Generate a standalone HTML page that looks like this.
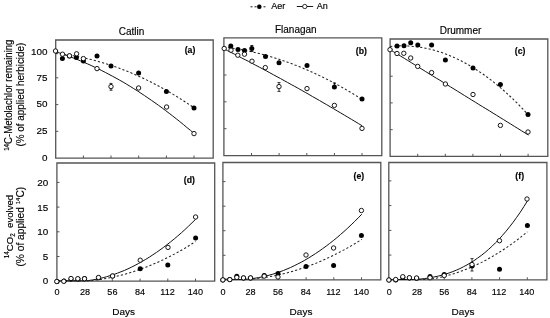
<!DOCTYPE html>
<html><head><meta charset="utf-8"><style>
html,body{margin:0;padding:0;background:#fff;}
svg{display:block;}
</style></head><body>
<svg width="550" height="318" viewBox="0 0 550 318">
<rect width="550" height="318" fill="#fff"/>
<g fill="#000" stroke="#000" stroke-width="0.15">
<text x="131.6" y="34.5" font-size="10" text-anchor="middle" font-weight="normal" font-family="Liberation Sans, sans-serif" >Catlin</text>
<text x="295.8" y="32.5" font-size="10" text-anchor="middle" font-weight="normal" font-family="Liberation Sans, sans-serif" >Flanagan</text>
<text x="460.5" y="33.5" font-size="10" text-anchor="middle" font-weight="normal" font-family="Liberation Sans, sans-serif" >Drummer</text>
<path d="M250.5,6.8 h2 M254.5,6.8 h2 M263.5,6.8 h2" stroke="#000" stroke-width="0.9"/>
<circle cx="259.3" cy="6.8" r="2.2" fill="#000"/>
<text x="271.2" y="9.0" font-size="9" text-anchor="start" font-weight="normal" font-family="Liberation Sans, sans-serif" >Aer</text>
<path d="M296.8,6.5 H313.2" stroke="#000" stroke-width="0.9"/>
<circle cx="304.8" cy="6.5" r="2.15" fill="#fff" stroke="#000" stroke-width="0.8"/>
<text x="316.8" y="8.6" font-size="9" text-anchor="start" font-weight="normal" font-family="Liberation Sans, sans-serif" >An</text>
<text x="190" y="52.8" font-size="8.7" text-anchor="middle" font-weight="bold" font-family="Liberation Sans, sans-serif" >(a)</text>
<text x="361.3" y="53.7" font-size="8.7" text-anchor="middle" font-weight="bold" font-family="Liberation Sans, sans-serif" >(b)</text>
<text x="520.1" y="54.3" font-size="8.7" text-anchor="middle" font-weight="bold" font-family="Liberation Sans, sans-serif" >(c)</text>
<text x="189.3" y="182.8" font-size="8.7" text-anchor="middle" font-weight="bold" font-family="Liberation Sans, sans-serif" >(d)</text>
<text x="358.8" y="178.9" font-size="8.7" text-anchor="middle" font-weight="bold" font-family="Liberation Sans, sans-serif" >(e)</text>
<text x="519.7" y="178.6" font-size="8.7" text-anchor="middle" font-weight="bold" font-family="Liberation Sans, sans-serif" >(f)</text>
<text x="47.4" y="54.7" font-size="9.9" text-anchor="end" font-weight="normal" font-family="Liberation Sans, sans-serif" >100</text>
<text x="47.4" y="80.8" font-size="9.9" text-anchor="end" font-weight="normal" font-family="Liberation Sans, sans-serif" >75</text>
<text x="47.4" y="107.4" font-size="9.9" text-anchor="end" font-weight="normal" font-family="Liberation Sans, sans-serif" >50</text>
<text x="47.4" y="134.1" font-size="9.9" text-anchor="end" font-weight="normal" font-family="Liberation Sans, sans-serif" >25</text>
<text x="47.4" y="160.8" font-size="9.9" text-anchor="end" font-weight="normal" font-family="Liberation Sans, sans-serif" >0</text>
<text x="48.3" y="186.3" font-size="9.9" text-anchor="end" font-weight="normal" font-family="Liberation Sans, sans-serif" >20</text>
<text x="48.3" y="210.8" font-size="9.9" text-anchor="end" font-weight="normal" font-family="Liberation Sans, sans-serif" >15</text>
<text x="48.3" y="235.4" font-size="9.9" text-anchor="end" font-weight="normal" font-family="Liberation Sans, sans-serif" >10</text>
<text x="48.3" y="260.1" font-size="9.9" text-anchor="end" font-weight="normal" font-family="Liberation Sans, sans-serif" >5</text>
<text x="48.3" y="284.4" font-size="9.9" text-anchor="end" font-weight="normal" font-family="Liberation Sans, sans-serif" >0</text>
<text transform="translate(57,294.6) scale(0.92,1)" font-size="9.9" text-anchor="middle" font-weight="normal" font-family="Liberation Sans, sans-serif" >0</text>
<text transform="translate(85,294.6) scale(0.92,1)" font-size="9.9" text-anchor="middle" font-weight="normal" font-family="Liberation Sans, sans-serif" >28</text>
<text transform="translate(112.4,294.6) scale(0.92,1)" font-size="9.9" text-anchor="middle" font-weight="normal" font-family="Liberation Sans, sans-serif" >56</text>
<text transform="translate(140,294.6) scale(0.92,1)" font-size="9.9" text-anchor="middle" font-weight="normal" font-family="Liberation Sans, sans-serif" >84</text>
<text transform="translate(167.6,294.6) scale(0.92,1)" font-size="9.9" text-anchor="middle" font-weight="normal" font-family="Liberation Sans, sans-serif" >112</text>
<text transform="translate(195.4,294.6) scale(0.92,1)" font-size="9.9" text-anchor="middle" font-weight="normal" font-family="Liberation Sans, sans-serif" >140</text>
<text transform="translate(223,294.6) scale(0.92,1)" font-size="9.9" text-anchor="middle" font-weight="normal" font-family="Liberation Sans, sans-serif" >0</text>
<text transform="translate(250.6,294.6) scale(0.92,1)" font-size="9.9" text-anchor="middle" font-weight="normal" font-family="Liberation Sans, sans-serif" >28</text>
<text transform="translate(278,294.6) scale(0.92,1)" font-size="9.9" text-anchor="middle" font-weight="normal" font-family="Liberation Sans, sans-serif" >56</text>
<text transform="translate(305.7,294.6) scale(0.92,1)" font-size="9.9" text-anchor="middle" font-weight="normal" font-family="Liberation Sans, sans-serif" >84</text>
<text transform="translate(333.4,294.6) scale(0.92,1)" font-size="9.9" text-anchor="middle" font-weight="normal" font-family="Liberation Sans, sans-serif" >112</text>
<text transform="translate(361.4,294.6) scale(0.92,1)" font-size="9.9" text-anchor="middle" font-weight="normal" font-family="Liberation Sans, sans-serif" >140</text>
<text transform="translate(389.3,294.6) scale(0.92,1)" font-size="9.9" text-anchor="middle" font-weight="normal" font-family="Liberation Sans, sans-serif" >0</text>
<text transform="translate(417,294.6) scale(0.92,1)" font-size="9.9" text-anchor="middle" font-weight="normal" font-family="Liberation Sans, sans-serif" >28</text>
<text transform="translate(444.3,294.6) scale(0.92,1)" font-size="9.9" text-anchor="middle" font-weight="normal" font-family="Liberation Sans, sans-serif" >56</text>
<text transform="translate(471.8,294.6) scale(0.92,1)" font-size="9.9" text-anchor="middle" font-weight="normal" font-family="Liberation Sans, sans-serif" >84</text>
<text transform="translate(499,294.6) scale(0.92,1)" font-size="9.9" text-anchor="middle" font-weight="normal" font-family="Liberation Sans, sans-serif" >112</text>
<text transform="translate(526.8,294.6) scale(0.92,1)" font-size="9.9" text-anchor="middle" font-weight="normal" font-family="Liberation Sans, sans-serif" >140</text>
<text transform="translate(123.7,315) scale(1,0.9)" font-size="10" text-anchor="middle" font-weight="normal" font-family="Liberation Sans, sans-serif" >Days</text>
<text transform="translate(301,315) scale(1,0.9)" font-size="10" text-anchor="middle" font-weight="normal" font-family="Liberation Sans, sans-serif" >Days</text>
<text transform="translate(463,315) scale(1,0.9)" font-size="10" text-anchor="middle" font-weight="normal" font-family="Liberation Sans, sans-serif" >Days</text>
<text transform="translate(12.1,95.2) rotate(-90) scale(1,1.06)" font-size="9.6" text-anchor="middle" font-family="Liberation Sans, sans-serif"><tspan font-size="6.2" dy="-3.2">14</tspan><tspan dy="3.2">C-Metolachlor remaining</tspan></text>
<text transform="translate(23.8,94.6) rotate(-90) scale(1,1.06)" font-size="9.9" text-anchor="middle" font-family="Liberation Sans, sans-serif">(% of applied herbicide)</text>
<text transform="translate(12.7,258.2) rotate(-90)" font-size="9.6" text-anchor="start" font-family="Liberation Sans, sans-serif"><tspan font-size="6.3" dy="-3.3">14</tspan><tspan dy="3.3">CO</tspan><tspan font-size="6.3" dy="2.5">2</tspan><tspan dy="-2.5" dx="5.4">evolved</tspan></text>
<text transform="translate(23.8,226.7) rotate(-90)" font-size="10.2" text-anchor="middle" font-family="Liberation Sans, sans-serif">(% of applied <tspan font-size="6" dy="-3.4">14</tspan><tspan dy="3.4">C)</tspan></text>
</g>
<path d="M83.4,158.1 v-2.6 M111.0,158.1 v-2.6 M138.7,158.1 v-2.6 M166.4,158.1 v-2.6 M194.0,158.1 v-2.6 M55.7,131.3 h2.6 M55.7,104.6 h2.6 M55.7,77.8 h2.6 M55.7,51.1 h2.6" stroke="#555555" stroke-width="1" fill="none"/>
<path d="M55.7,40.0 H213.2 V158.1 H55.7 Z" stroke="#555555" stroke-width="1.3" fill="none"/>
<path d="M55.7,51.8 L59.2,52.9 L62.8,54.1 L66.3,55.4 L69.9,56.7 L73.4,58.0 L77.0,59.4 L80.5,60.9 L84.1,62.4 L87.6,63.9 L91.2,65.5 L94.7,67.2 L98.3,68.9 L101.8,70.6 L105.3,72.4 L108.9,74.3 L112.4,76.2 L116.0,78.1 L119.5,80.1 L123.1,82.1 L126.6,84.2 L130.2,86.4 L133.7,88.6 L137.3,90.8 L140.8,93.1 L144.4,95.5 L147.9,97.9 L151.4,100.3 L155.0,102.8 L158.5,105.3 L162.1,107.9 L165.6,110.6 L169.2,113.3 L172.7,116.0 L176.3,118.8 L179.8,121.6 L183.4,124.5 L186.9,127.5 L190.5,130.4 L194.0,133.5" stroke="#111" stroke-width="1.0" fill="none"/>
<path d="M55.7,53.4 L59.2,53.8 L62.8,54.2 L66.3,54.7 L69.9,55.2 L73.4,55.8 L77.0,56.4 L80.5,57.1 L84.1,57.9 L87.6,58.7 L91.2,59.5 L94.7,60.4 L98.3,61.4 L101.8,62.4 L105.3,63.5 L108.9,64.6 L112.4,65.8 L116.0,67.0 L119.5,68.3 L123.1,69.7 L126.6,71.1 L130.2,72.5 L133.7,74.0 L137.3,75.6 L140.8,77.2 L144.4,78.8 L147.9,80.6 L151.4,82.3 L155.0,84.2 L158.5,86.0 L162.1,88.0 L165.6,90.0 L169.2,92.0 L172.7,94.1 L176.3,96.2 L179.8,98.4 L183.4,100.7 L186.9,103.0 L190.5,105.4 L194.0,107.8" stroke="#222" stroke-width="1.05" stroke-dasharray="2.2,2.1" fill="none"/>
<path d="M111,83.4 V90.2 M109.5,83.4 h3 M109.5,90.2 h3" stroke="#000" stroke-width="0.8" fill="none"/>
<circle cx="62.4" cy="58.6" r="2.5" fill="#000"/>
<circle cx="69.4" cy="56" r="2.5" fill="#000"/>
<circle cx="76.4" cy="57.4" r="2.5" fill="#000"/>
<circle cx="83.4" cy="61" r="2.5" fill="#000"/>
<circle cx="97" cy="56" r="2.5" fill="#000"/>
<circle cx="111" cy="66" r="2.5" fill="#000"/>
<circle cx="138.6" cy="73" r="2.5" fill="#000"/>
<circle cx="166.4" cy="91.6" r="2.5" fill="#000"/>
<circle cx="194" cy="108" r="2.5" fill="#000"/>
<circle cx="55.5" cy="51.0" r="2.2" fill="#fff" stroke="#000" stroke-width="0.9"/>
<circle cx="62.5" cy="54.2" r="2.2" fill="#fff" stroke="#000" stroke-width="0.9"/>
<circle cx="69.5" cy="55.8" r="2.2" fill="#fff" stroke="#000" stroke-width="0.9"/>
<circle cx="76.6" cy="53.8" r="2.2" fill="#fff" stroke="#000" stroke-width="0.9"/>
<circle cx="83.4" cy="58.6" r="2.2" fill="#fff" stroke="#000" stroke-width="0.9"/>
<circle cx="97" cy="68.6" r="2.2" fill="#fff" stroke="#000" stroke-width="0.9"/>
<circle cx="111" cy="86.6" r="2.2" fill="#fff" stroke="#000" stroke-width="0.9"/>
<circle cx="138.6" cy="88" r="2.2" fill="#fff" stroke="#000" stroke-width="0.9"/>
<circle cx="166.6" cy="107" r="2.2" fill="#fff" stroke="#000" stroke-width="0.9"/>
<circle cx="194" cy="133.6" r="2.2" fill="#fff" stroke="#000" stroke-width="0.9"/>
<path d="M251.5,155.6 v-2.6 M279.1,155.6 v-2.6 M306.8,155.6 v-2.6 M334.4,155.6 v-2.6 M362.0,155.6 v-2.6 M223.9,128.7 h2.6 M223.9,101.8 h2.6 M223.9,75.0 h2.6 M223.9,48.1 h2.6" stroke="#555555" stroke-width="1" fill="none"/>
<path d="M223.9,37.9 H381.8 V155.6 H223.9 Z" stroke="#555555" stroke-width="1.3" fill="none"/>
<path d="M223.9,48.8 L227.4,50.6 L231.0,52.4 L234.5,54.2 L238.1,56.0 L241.6,57.9 L245.1,59.7 L248.7,61.5 L252.2,63.4 L255.8,65.3 L259.3,67.1 L262.9,69.0 L266.4,70.9 L269.9,72.8 L273.5,74.8 L277.0,76.7 L280.6,78.6 L284.1,80.6 L287.6,82.5 L291.2,84.5 L294.7,86.4 L298.3,88.4 L301.8,90.4 L305.3,92.4 L308.9,94.4 L312.4,96.5 L316.0,98.5 L319.5,100.5 L323.0,102.6 L326.6,104.6 L330.1,106.7 L333.7,108.8 L337.2,110.9 L340.8,113.0 L344.3,115.1 L347.8,117.2 L351.4,119.3 L354.9,121.4 L358.5,123.6 L362.0,125.7" stroke="#111" stroke-width="1.0" fill="none"/>
<path d="M223.9,47.1 L227.4,47.5 L231.0,48.0 L234.5,48.5 L238.1,49.1 L241.6,49.7 L245.1,50.4 L248.7,51.1 L252.2,51.9 L255.8,52.7 L259.3,53.6 L262.9,54.5 L266.4,55.5 L269.9,56.5 L273.5,57.5 L277.0,58.6 L280.6,59.8 L284.1,61.0 L287.6,62.2 L291.2,63.5 L294.7,64.9 L298.3,66.2 L301.8,67.7 L305.3,69.2 L308.9,70.7 L312.4,72.3 L316.0,73.9 L319.5,75.6 L323.0,77.3 L326.6,79.1 L330.1,80.9 L333.7,82.8 L337.2,84.7 L340.8,86.6 L344.3,88.6 L347.8,90.7 L351.4,92.8 L354.9,95.0 L358.5,97.2 L362.0,99.4" stroke="#222" stroke-width="1.05" stroke-dasharray="2.2,2.1" fill="none"/>
<path d="M279,82.6 V91.4 M277.5,82.6 h3 M277.5,91.4 h3" stroke="#000" stroke-width="0.8" fill="none"/>
<path d="M251.8,45.5 V51.5 M250.3,45.5 h3 M250.3,51.5 h3" stroke="#000" stroke-width="0.8" fill="none"/>
<path d="M334.4,83.0 V87.0 M332.9,83.0 h3 M332.9,87.0 h3" stroke="#000" stroke-width="0.8" fill="none"/>
<circle cx="230.8" cy="46" r="2.5" fill="#000"/>
<circle cx="238" cy="49.5" r="2.5" fill="#000"/>
<circle cx="244.5" cy="50.5" r="2.5" fill="#000"/>
<circle cx="251.8" cy="48.5" r="2.5" fill="#000"/>
<circle cx="265.5" cy="56.5" r="2.5" fill="#000"/>
<circle cx="279" cy="62.8" r="2.5" fill="#000"/>
<circle cx="307" cy="65.4" r="2.5" fill="#000"/>
<circle cx="334.4" cy="87" r="2.5" fill="#000"/>
<circle cx="362" cy="99" r="2.5" fill="#000"/>
<circle cx="224.2" cy="48.5" r="2.2" fill="#fff" stroke="#000" stroke-width="0.9"/>
<circle cx="231" cy="50.2" r="2.2" fill="#fff" stroke="#000" stroke-width="0.9"/>
<circle cx="237.8" cy="55.2" r="2.2" fill="#fff" stroke="#000" stroke-width="0.9"/>
<circle cx="244.5" cy="54.2" r="2.2" fill="#fff" stroke="#000" stroke-width="0.9"/>
<circle cx="252" cy="61.2" r="2.2" fill="#fff" stroke="#000" stroke-width="0.9"/>
<circle cx="265.3" cy="67.6" r="2.2" fill="#fff" stroke="#000" stroke-width="0.9"/>
<circle cx="279" cy="86.6" r="2.2" fill="#fff" stroke="#000" stroke-width="0.9"/>
<circle cx="307" cy="88.6" r="2.2" fill="#fff" stroke="#000" stroke-width="0.9"/>
<circle cx="334.4" cy="105.4" r="2.2" fill="#fff" stroke="#000" stroke-width="0.9"/>
<circle cx="362" cy="128.4" r="2.2" fill="#fff" stroke="#000" stroke-width="0.9"/>
<path d="M417.7,156.4 v-2.6 M445.3,156.4 v-2.6 M472.9,156.4 v-2.6 M500.5,156.4 v-2.6 M528.1,156.4 v-2.6 M390.1,129.7 h2.6 M390.1,102.9 h2.6 M390.1,76.2 h2.6 M390.1,49.4 h2.6" stroke="#555555" stroke-width="1" fill="none"/>
<path d="M390.1,39.0 H547.8 V156.4 H390.1 Z" stroke="#555555" stroke-width="1.3" fill="none"/>
<path d="M390.1,49.6 L393.6,51.8 L397.2,53.9 L400.7,56.1 L404.3,58.3 L407.8,60.5 L411.4,62.7 L414.9,64.9 L418.5,67.1 L422.0,69.3 L425.6,71.5 L429.1,73.7 L432.7,75.9 L436.2,78.1 L439.8,80.2 L443.3,82.4 L446.9,84.6 L450.4,86.8 L454.0,89.0 L457.5,91.2 L461.1,93.4 L464.6,95.6 L468.2,97.8 L471.7,100.0 L475.3,102.2 L478.8,104.4 L482.4,106.6 L485.9,108.7 L489.5,110.9 L493.0,113.1 L496.6,115.3 L500.1,117.5 L503.7,119.7 L507.2,121.9 L510.8,124.1 L514.3,126.3 L517.9,128.5 L521.4,130.7 L525.0,132.9 L528.5,135.0" stroke="#111" stroke-width="1.0" fill="none"/>
<path d="M390.1,46.5 L393.6,46.2 L397.2,46.0 L400.7,45.8 L404.3,45.8 L407.8,46.0 L411.4,46.2 L414.9,46.5 L418.5,46.9 L422.0,47.5 L425.6,48.2 L429.1,48.9 L432.7,49.8 L436.2,50.8 L439.8,51.9 L443.3,53.1 L446.9,54.4 L450.4,55.9 L454.0,57.4 L457.5,59.1 L461.1,60.8 L464.6,62.7 L468.2,64.7 L471.7,66.8 L475.3,69.0 L478.8,71.3 L482.4,73.7 L485.9,76.2 L489.5,78.9 L493.0,81.6 L496.6,84.5 L500.1,87.4 L503.7,90.5 L507.2,93.7 L510.8,97.0 L514.3,100.4 L517.9,103.9 L521.4,107.6 L525.0,111.3 L528.5,115.2" stroke="#222" stroke-width="1.05" stroke-dasharray="2.2,2.1" fill="none"/>
<circle cx="397" cy="46" r="2.5" fill="#000"/>
<circle cx="404" cy="45.7" r="2.5" fill="#000"/>
<circle cx="410.7" cy="42.7" r="2.5" fill="#000"/>
<circle cx="417.8" cy="45.1" r="2.5" fill="#000"/>
<circle cx="431.6" cy="45.1" r="2.5" fill="#000"/>
<circle cx="445.4" cy="60" r="2.5" fill="#000"/>
<circle cx="473" cy="68" r="2.5" fill="#000"/>
<circle cx="500.4" cy="84.6" r="2.5" fill="#000"/>
<circle cx="528" cy="114.4" r="2.5" fill="#000"/>
<circle cx="390" cy="49.7" r="2.2" fill="#fff" stroke="#000" stroke-width="0.9"/>
<circle cx="397" cy="53.5" r="2.2" fill="#fff" stroke="#000" stroke-width="0.9"/>
<circle cx="403.8" cy="53.3" r="2.2" fill="#fff" stroke="#000" stroke-width="0.9"/>
<circle cx="410.7" cy="58" r="2.2" fill="#fff" stroke="#000" stroke-width="0.9"/>
<circle cx="417.7" cy="66.4" r="2.2" fill="#fff" stroke="#000" stroke-width="0.9"/>
<circle cx="431.6" cy="72.6" r="2.2" fill="#fff" stroke="#000" stroke-width="0.9"/>
<circle cx="445.4" cy="84" r="2.2" fill="#fff" stroke="#000" stroke-width="0.9"/>
<circle cx="473" cy="94.5" r="2.2" fill="#fff" stroke="#000" stroke-width="0.9"/>
<circle cx="500.4" cy="125.4" r="2.2" fill="#fff" stroke="#000" stroke-width="0.9"/>
<circle cx="528" cy="132" r="2.2" fill="#fff" stroke="#000" stroke-width="0.9"/>
<path d="M84.6,281.2 v-2.6 M112.3,281.2 v-2.6 M140.1,281.2 v-2.6 M167.8,281.2 v-2.6 M195.5,281.2 v-2.6 M56.9,256.5 h2.6 M56.9,231.8 h2.6 M56.9,207.1 h2.6 M56.9,182.4 h2.6" stroke="#555555" stroke-width="1" fill="none"/>
<path d="M56.9,163.0 H214.7 V281.2 H56.9 Z" stroke="#555555" stroke-width="1.3" fill="none"/>
<path d="M56.9,280.8 L60.5,280.8 L64.0,280.8 L67.6,280.8 L71.1,280.8 L74.7,280.8 L78.2,280.8 L81.8,280.8 L85.4,280.8 L88.9,280.5 L92.5,279.9 L96.0,279.3 L99.6,278.5 L103.1,277.7 L106.7,276.7 L110.2,275.6 L113.8,274.5 L117.4,273.2 L120.9,271.8 L124.5,270.4 L128.0,268.8 L131.6,267.1 L135.1,265.3 L138.7,263.4 L142.3,261.4 L145.8,259.3 L149.4,257.1 L152.9,254.8 L156.5,252.4 L160.0,249.9 L163.6,247.3 L167.1,244.6 L170.7,241.8 L174.3,238.9 L177.8,235.9 L181.4,232.8 L184.9,229.6 L188.5,226.2 L192.0,222.8 L195.6,219.3" stroke="#111" stroke-width="1.0" fill="none"/>
<path d="M56.9,280.8 L60.5,280.8 L64.0,280.8 L67.6,280.8 L71.1,280.8 L74.7,280.8 L78.2,280.8 L81.8,280.8 L85.4,280.8 L88.9,280.8 L92.5,280.6 L96.0,280.1 L99.6,279.6 L103.1,279.0 L106.7,278.4 L110.2,277.7 L113.8,277.0 L117.4,276.1 L120.9,275.2 L124.5,274.3 L128.0,273.3 L131.6,272.2 L135.1,271.0 L138.7,269.8 L142.3,268.5 L145.8,267.2 L149.4,265.8 L152.9,264.3 L156.5,262.8 L160.0,261.2 L163.6,259.5 L167.1,257.8 L170.7,256.0 L174.3,254.1 L177.8,252.2 L181.4,250.2 L184.9,248.2 L188.5,246.0 L192.0,243.8 L195.6,241.6" stroke="#222" stroke-width="1.05" stroke-dasharray="2.2,2.1" fill="none"/>
<circle cx="57" cy="281.5" r="2.5" fill="#000"/>
<circle cx="64" cy="281" r="2.5" fill="#000"/>
<circle cx="71" cy="279" r="2.5" fill="#000"/>
<circle cx="78" cy="279" r="2.5" fill="#000"/>
<circle cx="84.5" cy="278.5" r="2.5" fill="#000"/>
<circle cx="98.5" cy="277.8" r="2.5" fill="#000"/>
<circle cx="112.6" cy="276" r="2.5" fill="#000"/>
<circle cx="140.2" cy="268.8" r="2.5" fill="#000"/>
<circle cx="167.8" cy="265" r="2.5" fill="#000"/>
<circle cx="195.6" cy="238" r="2.5" fill="#000"/>
<circle cx="56.8" cy="281.5" r="2.2" fill="#fff" stroke="#000" stroke-width="0.9"/>
<circle cx="63.8" cy="281.3" r="2.2" fill="#fff" stroke="#000" stroke-width="0.9"/>
<circle cx="71" cy="278.5" r="2.2" fill="#fff" stroke="#000" stroke-width="0.9"/>
<circle cx="77.8" cy="278.7" r="2.2" fill="#fff" stroke="#000" stroke-width="0.9"/>
<circle cx="84.5" cy="278.7" r="2.2" fill="#fff" stroke="#000" stroke-width="0.9"/>
<circle cx="98.5" cy="277.5" r="2.2" fill="#fff" stroke="#000" stroke-width="0.9"/>
<circle cx="112.6" cy="276" r="2.2" fill="#fff" stroke="#000" stroke-width="0.9"/>
<circle cx="140.2" cy="260.2" r="2.2" fill="#fff" stroke="#000" stroke-width="0.9"/>
<circle cx="168" cy="247.4" r="2.2" fill="#fff" stroke="#000" stroke-width="0.9"/>
<circle cx="195.6" cy="217" r="2.2" fill="#fff" stroke="#000" stroke-width="0.9"/>
<path d="M250.6,279.9 v-2.6 M278.3,279.9 v-2.6 M306.1,279.9 v-2.6 M333.8,279.9 v-2.6 M361.5,279.9 v-2.6 M222.9,255.3 h2.6 M222.9,230.7 h2.6 M222.9,206.2 h2.6 M222.9,181.6 h2.6" stroke="#555555" stroke-width="1" fill="none"/>
<path d="M222.9,162.5 H380.8 V279.9 H222.9 Z" stroke="#555555" stroke-width="1.3" fill="none"/>
<path d="M222.9,278.8 L226.5,279.2 L230.0,279.4 L233.6,279.5 L237.1,279.5 L240.7,279.5 L244.3,279.4 L247.8,279.1 L251.4,278.7 L255.0,278.2 L258.5,277.6 L262.1,276.9 L265.6,276.1 L269.2,275.2 L272.8,274.2 L276.3,273.0 L279.9,271.8 L283.4,270.5 L287.0,269.0 L290.6,267.5 L294.1,265.8 L297.7,264.0 L301.3,262.2 L304.8,260.2 L308.4,258.1 L311.9,255.9 L315.5,253.6 L319.1,251.2 L322.6,248.7 L326.2,246.1 L329.7,243.4 L333.3,240.6 L336.9,237.7 L340.4,234.6 L344.0,231.5 L347.6,228.2 L351.1,224.9 L354.7,221.4 L358.2,217.9 L361.8,214.2" stroke="#111" stroke-width="1.0" fill="none"/>
<path d="M222.9,279.5 L226.5,279.5 L230.0,279.5 L233.6,279.5 L237.1,279.5 L240.7,279.5 L244.3,279.5 L247.8,279.3 L251.4,279.1 L255.0,278.7 L258.5,278.3 L262.1,277.9 L265.6,277.3 L269.2,276.7 L272.8,276.1 L276.3,275.4 L279.9,274.6 L283.4,273.8 L287.0,272.9 L290.6,271.9 L294.1,270.9 L297.7,269.8 L301.3,268.6 L304.8,267.4 L308.4,266.1 L311.9,264.8 L315.5,263.4 L319.1,261.9 L322.6,260.4 L326.2,258.8 L329.7,257.1 L333.3,255.4 L336.9,253.6 L340.4,251.8 L344.0,249.9 L347.6,247.9 L351.1,245.9 L354.7,243.8 L358.2,241.6 L361.8,239.4" stroke="#222" stroke-width="1.05" stroke-dasharray="2.2,2.1" fill="none"/>
<circle cx="222.8" cy="280" r="2.5" fill="#000"/>
<circle cx="229.8" cy="279.5" r="2.5" fill="#000"/>
<circle cx="236.8" cy="276.2" r="2.5" fill="#000"/>
<circle cx="243.5" cy="278" r="2.5" fill="#000"/>
<circle cx="250.5" cy="278" r="2.5" fill="#000"/>
<circle cx="264.2" cy="275.5" r="2.5" fill="#000"/>
<circle cx="278" cy="273.6" r="2.5" fill="#000"/>
<circle cx="306" cy="266.5" r="2.5" fill="#000"/>
<circle cx="333.6" cy="265.6" r="2.5" fill="#000"/>
<circle cx="361.4" cy="235.4" r="2.5" fill="#000"/>
<circle cx="222.9" cy="279.9" r="2.2" fill="#fff" stroke="#000" stroke-width="0.9"/>
<circle cx="229.8" cy="279.6" r="2.2" fill="#fff" stroke="#000" stroke-width="0.9"/>
<circle cx="236.8" cy="277.4" r="2.2" fill="#fff" stroke="#000" stroke-width="0.9"/>
<circle cx="243.5" cy="277.9" r="2.2" fill="#fff" stroke="#000" stroke-width="0.9"/>
<circle cx="250.5" cy="277.9" r="2.2" fill="#fff" stroke="#000" stroke-width="0.9"/>
<circle cx="264.2" cy="276.1" r="2.2" fill="#fff" stroke="#000" stroke-width="0.9"/>
<circle cx="278" cy="277" r="2.2" fill="#fff" stroke="#000" stroke-width="0.9"/>
<circle cx="306" cy="255" r="2.2" fill="#fff" stroke="#000" stroke-width="0.9"/>
<circle cx="333.6" cy="248" r="2.2" fill="#fff" stroke="#000" stroke-width="0.9"/>
<circle cx="361.4" cy="210.5" r="2.2" fill="#fff" stroke="#000" stroke-width="0.9"/>
<path d="M416.5,279.9 v-2.6 M444.2,279.9 v-2.6 M471.9,279.9 v-2.6 M499.6,279.9 v-2.6 M527.3,279.9 v-2.6 M388.8,255.1 h2.6 M388.8,230.4 h2.6 M388.8,205.6 h2.6 M388.8,180.9 h2.6" stroke="#555555" stroke-width="1" fill="none"/>
<path d="M388.8,162.5 H546.9 V279.9 H388.8 Z" stroke="#555555" stroke-width="1.3" fill="none"/>
<path d="M388.8,279.5 L392.4,279.5 L395.9,279.5 L399.5,279.5 L403.0,279.5 L406.6,279.5 L410.1,279.5 L413.7,279.5 L417.2,279.3 L420.8,279.0 L424.3,278.6 L427.9,278.1 L431.4,277.5 L435.0,276.8 L438.6,276.0 L442.1,275.1 L445.7,274.1 L449.2,272.9 L452.8,271.6 L456.3,270.2 L459.9,268.6 L463.4,266.8 L467.0,264.9 L470.5,262.8 L474.1,260.6 L477.6,258.1 L481.2,255.5 L484.8,252.7 L488.3,249.6 L491.9,246.4 L495.4,242.9 L499.0,239.3 L502.5,235.3 L506.1,231.2 L509.6,226.8 L513.2,222.2 L516.7,217.3 L520.3,212.2 L523.8,206.7 L527.4,201.0" stroke="#111" stroke-width="1.0" fill="none"/>
<path d="M388.8,279.4 L392.4,279.5 L395.9,279.5 L399.5,279.5 L403.0,279.5 L406.6,279.5 L410.1,279.5 L413.7,279.5 L417.2,279.5 L420.8,279.5 L424.3,279.5 L427.9,279.5 L431.4,279.0 L435.0,278.4 L438.6,277.7 L442.1,276.9 L445.7,276.1 L449.2,275.1 L452.8,274.1 L456.3,272.9 L459.9,271.7 L463.4,270.4 L467.0,269.0 L470.5,267.5 L474.1,266.0 L477.6,264.3 L481.2,262.6 L484.8,260.7 L488.3,258.8 L491.9,256.8 L495.4,254.7 L499.0,252.5 L502.5,250.2 L506.1,247.9 L509.6,245.4 L513.2,242.9 L516.7,240.3 L520.3,237.5 L523.8,234.7 L527.4,231.8" stroke="#222" stroke-width="1.05" stroke-dasharray="2.2,2.1" fill="none"/>
<path d="M472,258.6 V271.0 M470.5,258.6 h3 M470.5,271.0 h3" stroke="#000" stroke-width="0.8" fill="none"/>
<circle cx="389" cy="280" r="2.5" fill="#000"/>
<circle cx="395.7" cy="280" r="2.5" fill="#000"/>
<circle cx="402.8" cy="277.5" r="2.5" fill="#000"/>
<circle cx="409.4" cy="278" r="2.5" fill="#000"/>
<circle cx="416.6" cy="278.3" r="2.5" fill="#000"/>
<circle cx="430" cy="276.4" r="2.5" fill="#000"/>
<circle cx="444.2" cy="274.4" r="2.5" fill="#000"/>
<circle cx="472" cy="266" r="2.5" fill="#000"/>
<circle cx="499.5" cy="269.2" r="2.5" fill="#000"/>
<circle cx="527.4" cy="225.6" r="2.5" fill="#000"/>
<circle cx="388.9" cy="280" r="2.2" fill="#fff" stroke="#000" stroke-width="0.9"/>
<circle cx="395.7" cy="279.5" r="2.2" fill="#fff" stroke="#000" stroke-width="0.9"/>
<circle cx="402.8" cy="276.7" r="2.2" fill="#fff" stroke="#000" stroke-width="0.9"/>
<circle cx="409.4" cy="277.7" r="2.2" fill="#fff" stroke="#000" stroke-width="0.9"/>
<circle cx="416.6" cy="278" r="2.2" fill="#fff" stroke="#000" stroke-width="0.9"/>
<circle cx="430" cy="277.7" r="2.2" fill="#fff" stroke="#000" stroke-width="0.9"/>
<circle cx="444.2" cy="275.5" r="2.2" fill="#fff" stroke="#000" stroke-width="0.9"/>
<circle cx="472" cy="264.5" r="2.2" fill="#fff" stroke="#000" stroke-width="0.9"/>
<circle cx="499.5" cy="240.7" r="2.2" fill="#fff" stroke="#000" stroke-width="0.9"/>
<circle cx="527" cy="199" r="2.2" fill="#fff" stroke="#000" stroke-width="0.9"/>
</svg>
</body></html>
